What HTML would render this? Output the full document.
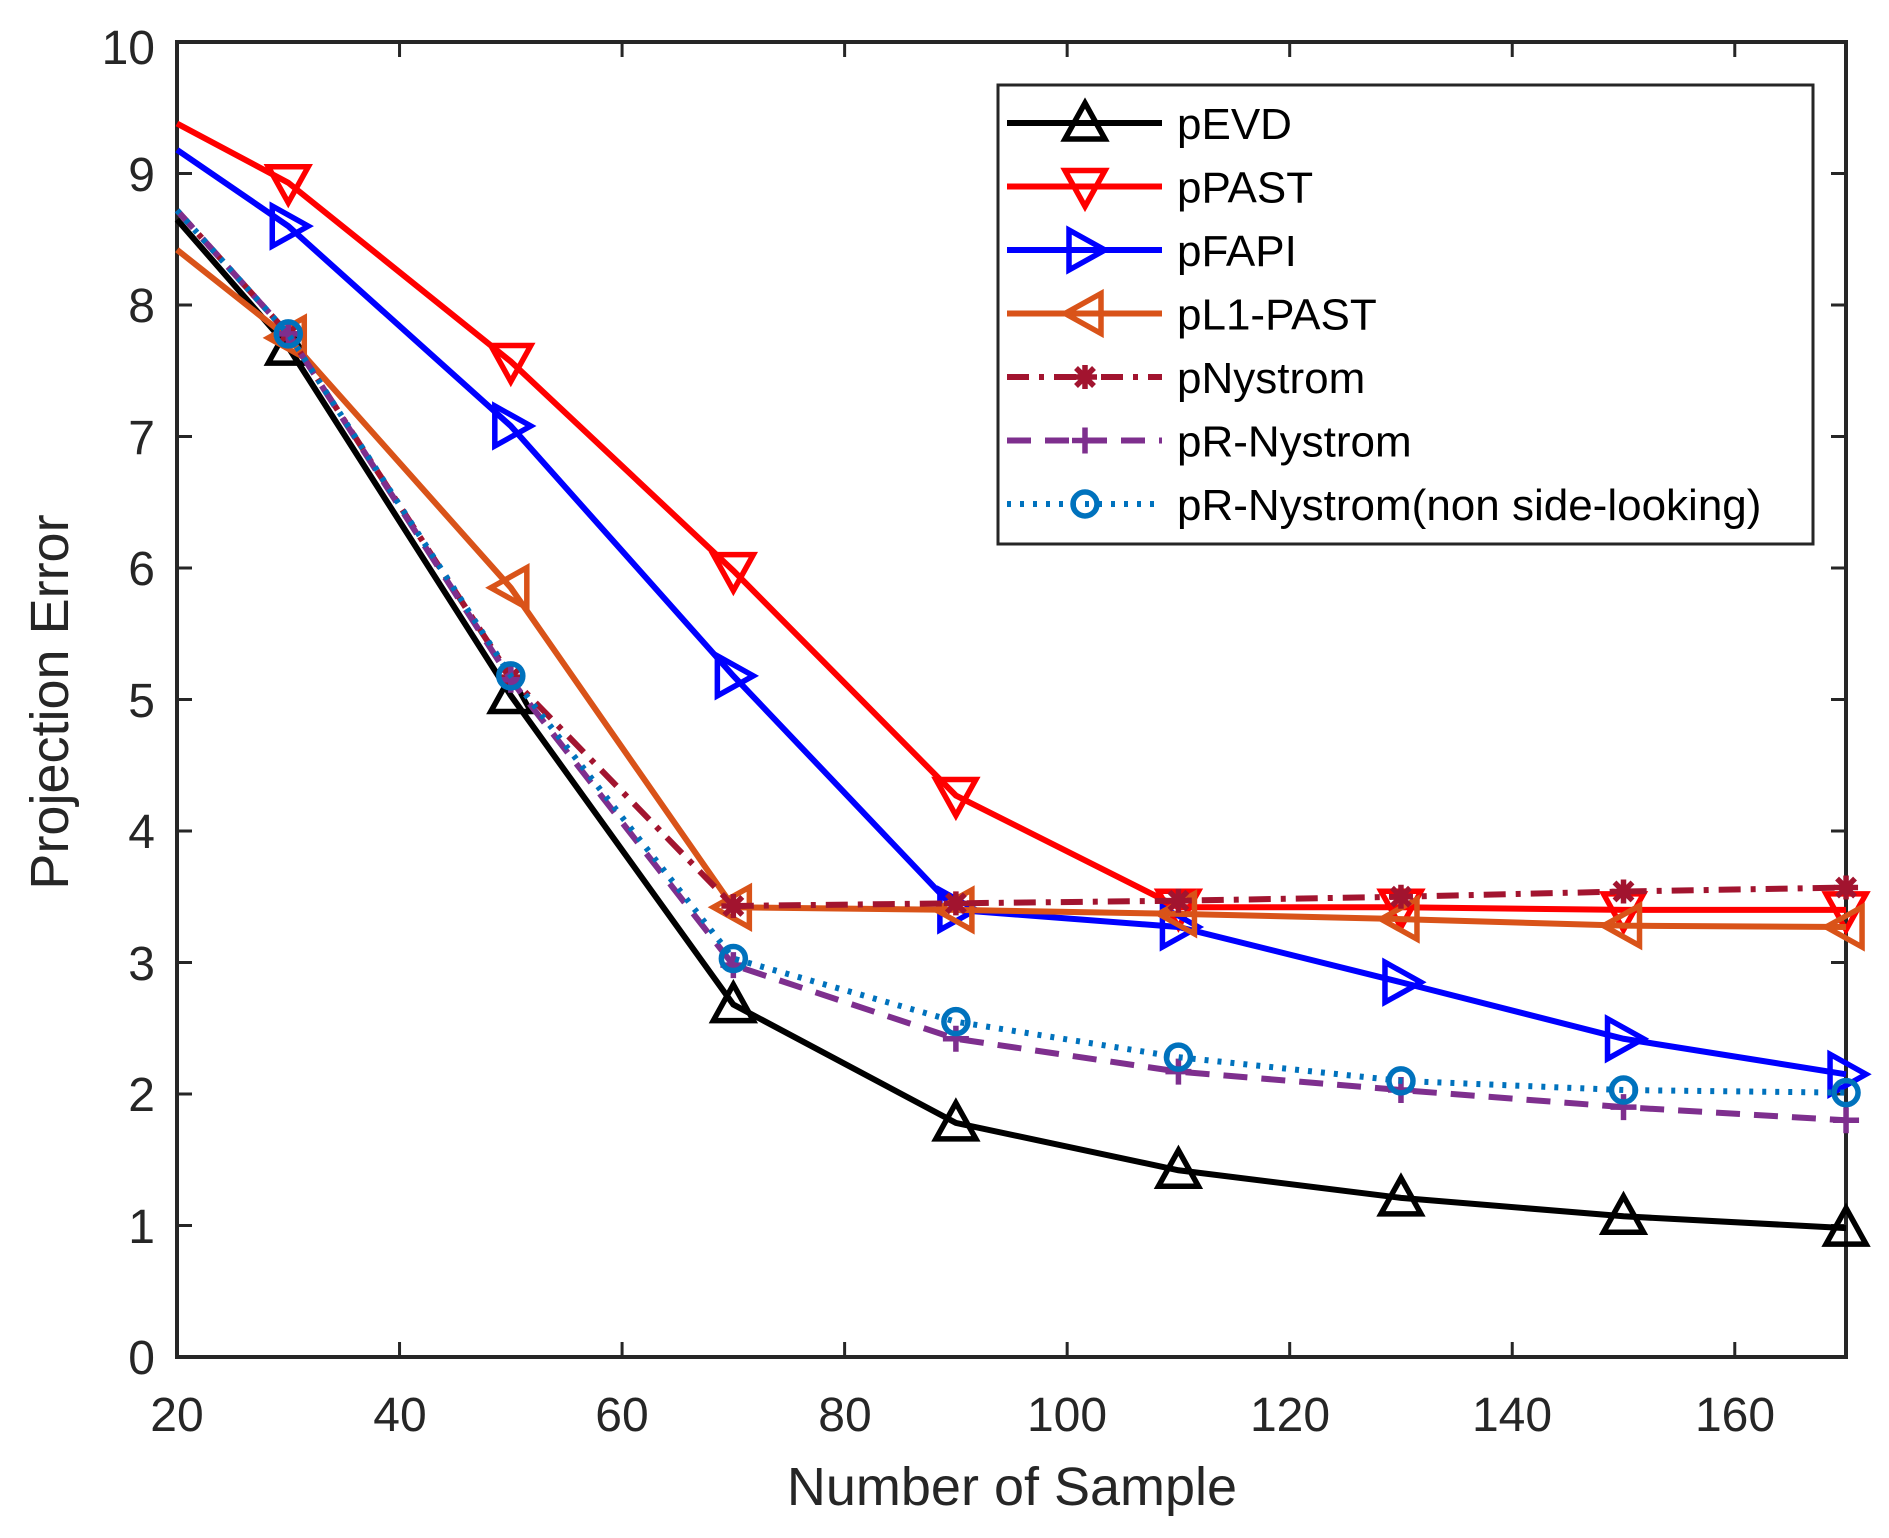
<!DOCTYPE html>
<html><head><meta charset="utf-8"><style>
html,body{margin:0;padding:0;background:#fff;}
svg{display:block;font-family:"Liberation Sans",Arial,sans-serif;}
</style></head><body>
<svg id="s" width="1889" height="1538" viewBox="0 0 1889 1538" xmlns="http://www.w3.org/2000/svg">
<rect width="1889" height="1538" fill="#fff"/>
<g id="plot"></g>
<g font-size="48" fill="#262626" text-anchor="middle">
<text x="177" y="1431">20</text><text x="400" y="1431">40</text><text x="622" y="1431">60</text><text x="845" y="1431">80</text><text x="1067" y="1431">100</text><text x="1290" y="1431">120</text><text x="1512" y="1431">140</text><text x="1735" y="1431">160</text>
</g>
<g font-size="48" fill="#262626" text-anchor="end">
<text x="155" y="1374">0</text><text x="155" y="1243">1</text><text x="155" y="1111">2</text><text x="155" y="980">3</text><text x="155" y="848">4</text><text x="155" y="717">5</text><text x="155" y="585">6</text><text x="155" y="454">7</text><text x="155" y="322">8</text><text x="155" y="191">9</text><text x="155" y="64">10</text>
</g>
<text x="1012" y="1505" font-size="54" fill="#262626" text-anchor="middle">Number of Sample</text>
<text transform="translate(68,702) rotate(-90)" font-size="54" fill="#262626" text-anchor="middle">Projection Error</text>
<g id="leg"></g>
</svg>
<script>
const X=v=>177+(v-20)*11.127, Y=v=>1357-v*131.5;
const xs=[20,30,50,70,90,110,130,150,170];
const S=[
["pEVD","#000","none","tu",[8.65,7.68,5.03,2.68,1.78,1.42,1.21,1.07,0.98]],
["pPAST","#f00","none","td",[9.38,8.93,7.57,5.98,4.27,3.42,3.42,3.40,3.40]],
["pFAPI","#00f","none","tr",[9.18,8.60,7.08,5.18,3.40,3.27,2.85,2.42,2.15]],
["pL1-PAST","#D95319","none","tl",[8.42,7.75,5.85,3.42,3.40,3.37,3.33,3.28,3.27]],
["pNystrom","#A2142F","22 10 5 10","st",[8.72,7.78,5.17,3.43,3.45,3.47,3.50,3.54,3.57]],
["pR-Nystrom","#7E2F8E","24 14","pl",[8.72,7.78,5.15,2.98,2.42,2.17,2.03,1.90,1.80]],
["pR-Nystrom(non side-looking)","#0072BD","4 9","ci",[8.72,7.78,5.18,3.03,2.55,2.28,2.10,2.03,2.01]]
];
function mk(t,x,y,c){
 const r=20;let p;
 if(t=="tu")p=`<polygon points="${x},${y-r} ${x+r},${y+r*0.8} ${x-r},${y+r*0.8}"/>`;
 if(t=="td")p=`<polygon points="${x},${y+r} ${x+r},${y-r*0.8} ${x-r},${y-r*0.8}"/>`;
 if(t=="tr")p=`<polygon points="${x+r},${y} ${x-r*0.8},${y+r} ${x-r*0.8},${y-r}"/>`;
 if(t=="tl")p=`<polygon points="${x-r},${y} ${x+r*0.8},${y+r} ${x+r*0.8},${y-r}"/>`;
 if(t=="ci")p=`<circle cx="${x}" cy="${y}" r="12"/>`;
 if(t=="pl")p=`<path d="M${x-13},${y}H${x+13}M${x},${y-13}V${y+13}"/>`;
 if(t=="st")p=`<path d="M${x-12},${y}H${x+12}M${x},${y-12}V${y+12}M${x-9},${y-9}L${x+9},${y+9}M${x-9},${y+9}L${x+9},${y-9}"/>`;
 return `<g fill="none" stroke="${c}" stroke-width="5.5">${p}</g>`;
}
let h='';
h+=`<rect x="177" y="42" width="1669" height="1315" fill="none" stroke="#262626" stroke-width="4"/>`;
for(let v=40;v<=160;v+=20){h+=`<path d="M${X(v)},1357v-15M${X(v)},42v15" stroke="#262626" stroke-width="3"/>`;}
for(let v=1;v<=9;v++){h+=`<path d="M177,${Y(v)}h15M1846,${Y(v)}h-15" stroke="#262626" stroke-width="3"/>`;}
for(const s of S){
 const pts=xs.map((x,i)=>X(x)+","+Y(s[4][i])).join(" ");
 h+=`<polyline points="${pts}" fill="none" stroke="${s[1]}" stroke-width="6" ${s[2]!="none"?`stroke-dasharray="${s[2]}"`:""}/>`;
 for(let i=1;i<xs.length;i++)h+=mk(s[3],X(xs[i]),Y(s[4][i]),s[1]);
}
document.getElementById('plot').innerHTML=h;
let l=`<rect x="998" y="85" width="815" height="459" fill="#fff" stroke="#262626" stroke-width="3"/>`;
S.forEach((s,i)=>{const y=123+i*63.5;
 l+=`<line x1="1007" y1="${y}" x2="1162" y2="${y}" stroke="${s[1]}" stroke-width="6" ${s[2]!="none"?`stroke-dasharray="${s[2]}"`:""}/>`;
 l+=mk(s[3],1085,y,s[1]);
 l+=`<text x="1177" y="${y+16}" font-size="44" fill="#000">${s[0]}</text>`;});
document.getElementById('leg').innerHTML=l;
</script>
</body></html>
